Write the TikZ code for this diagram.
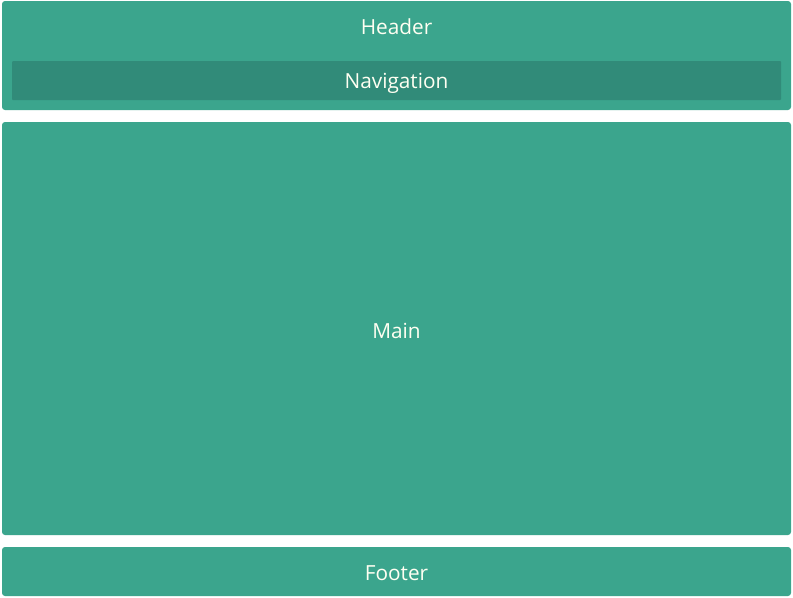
\documentclass[tikz,border=0pt]{standalone}
\usepackage{fontspec}
\setmainfont{Open Sans}
\definecolor{teal1}{HTML}{3BA58D}
\definecolor{teal2}{HTML}{318B79}
\definecolor{txt}{HTML}{FFFFF2}
\begin{document}
\begin{tikzpicture}[x=0.75pt,y=-0.75pt,
  panel/.style={fill=teal1,draw=none,rounded corners=2.25pt},
  navbox/.style={fill=teal2,draw=none,rounded corners=0.75pt},
  lbl/.style={text=txt,font=\fontsize{15.6pt}{18pt}\selectfont,inner sep=0pt,anchor=base}]
\useasboundingbox (0,0) rectangle (793,597);
\fill[white] (0,0) rectangle (793,597);
\path[panel] (2,1) rectangle (791,110);
\path[navbox] (12,61) rectangle (781,100);
\path[panel] (2,122) rectangle (791,535);
\path[panel] (2,547) rectangle (791,596);
\node[lbl] (header) at (396.5,34.5) {Header};
\node[lbl] (nav) at (396.5,88) {Navigation};
\node[lbl] (main) at (396.5,338) {Main};
\node[lbl] (footer) at (396.5,580) {Footer};
\end{tikzpicture}
\end{document}
